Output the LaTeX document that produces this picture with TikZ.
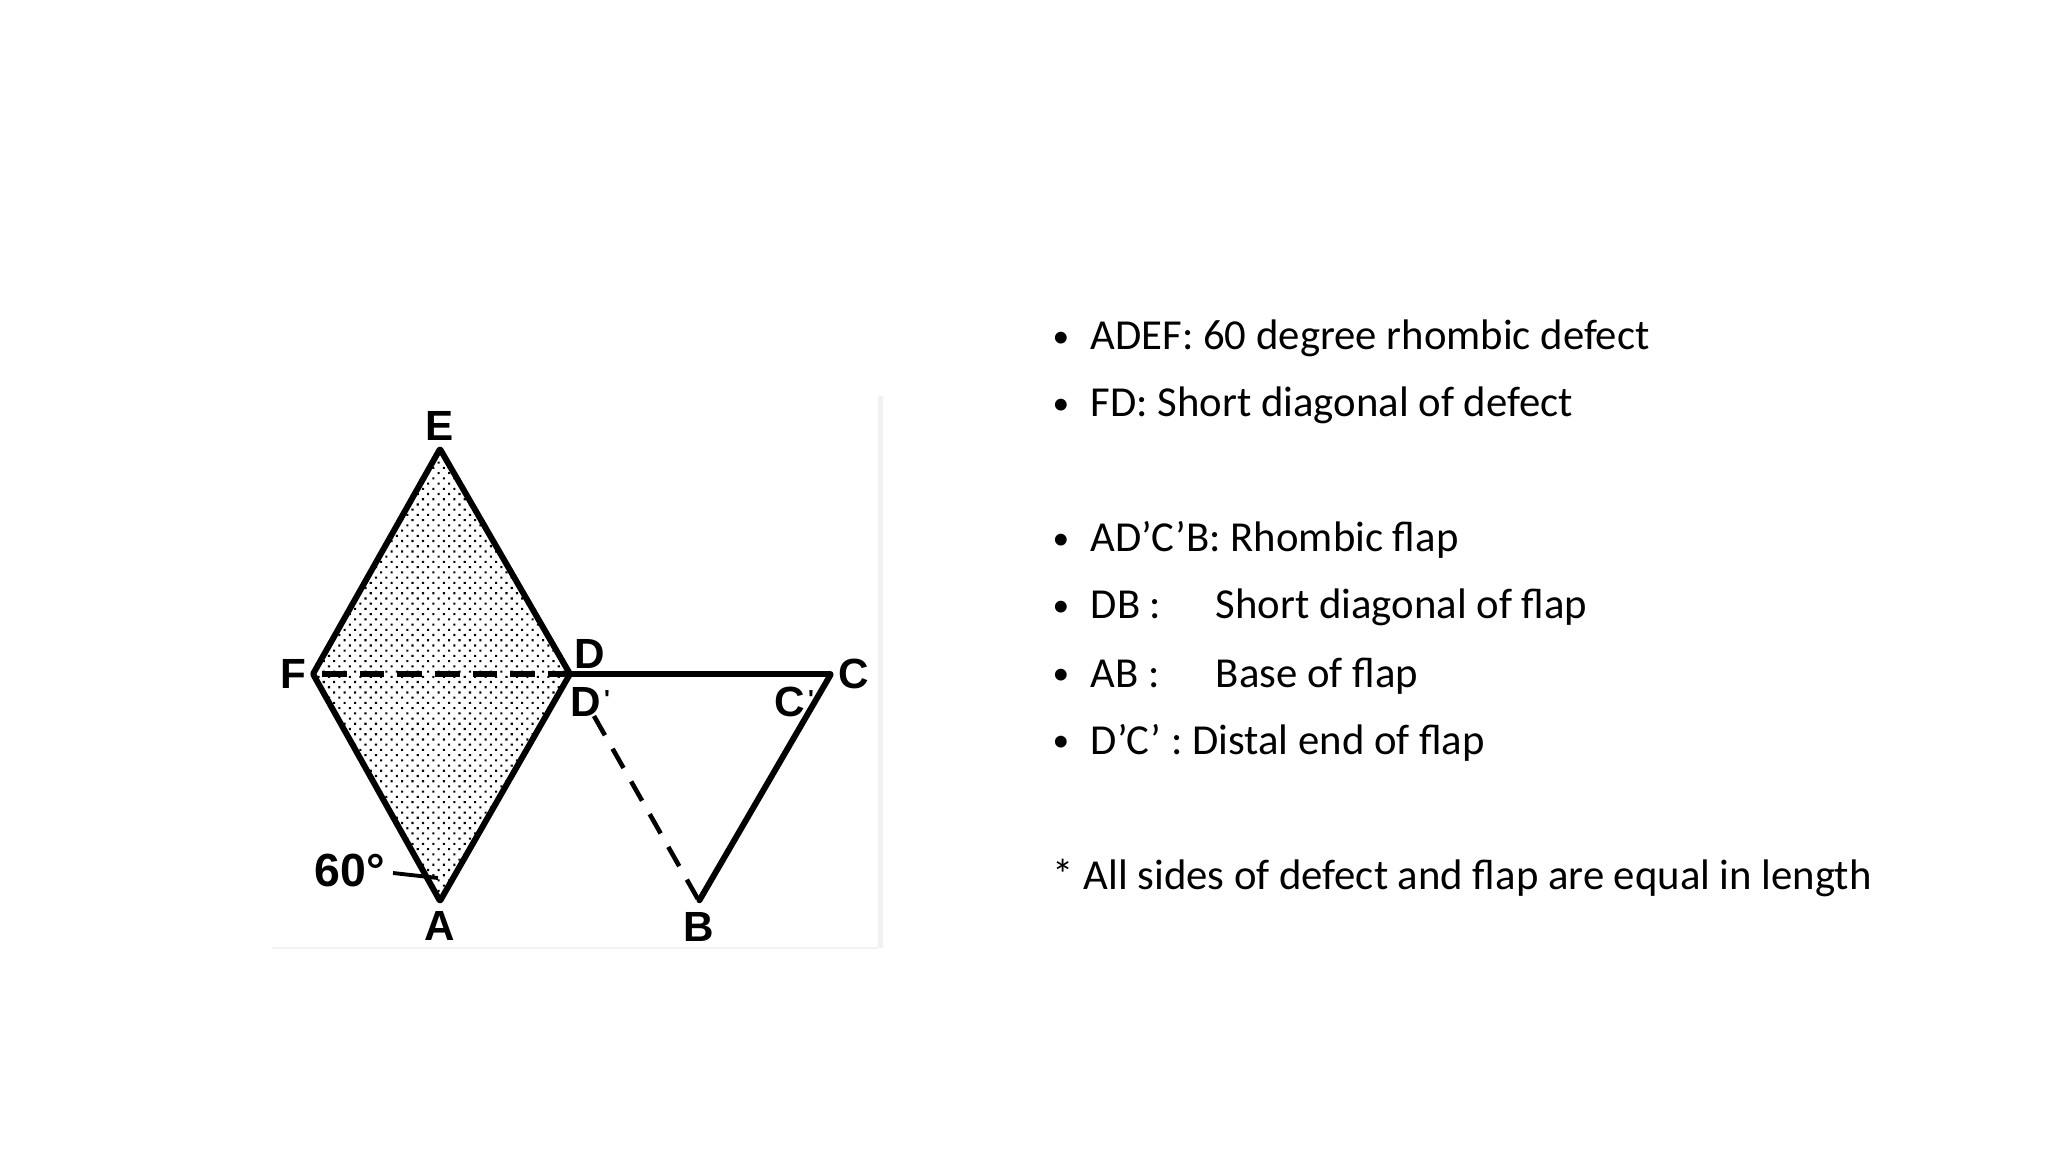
\documentclass[tikz,border=0pt]{standalone}
\usepackage{fontspec}
\setmainfont{Carlito}
\newfontfamily\labelfont{Liberation Sans}
\usetikzlibrary{patterns.meta}
\begin{document}
\begin{tikzpicture}[x=0.01cm,y=-0.01cm]
\tikzset{corner/.style={inner sep=0pt, minimum size=0pt},
  vlabel/.style={font=\labelfont\bfseries\fontsize{12}{12}\selectfont, inner sep=0pt},
  item/.style={anchor=base west, inner sep=0pt, font=\fontsize{12.15}{14}\selectfont},
  side/.style={line width=1.7pt, line cap=round},
  cut/.style={line width=1.3pt, dash pattern=on 6.3pt off 4.4pt}}
\newcommand{\bul}{\makebox[0.38cm][l]{\raisebox{0.6pt}{\fontsize{9.5}{9.5}\selectfont\textbullet}}}
\newcommand{\tick}{\rlap{\raisebox{2.5pt}{\kern0.8pt\fontsize{7}{7}\selectfont\textquotesingle}}}
    \useasboundingbox (0,0) rectangle (2048,1152);
    \fill[white] (0,0) rectangle (2048,1152);
    \fill[gray!10] (878,396) rectangle (883,948);
    \draw[gray!10, line width=0.5pt] (272,948) -- (878,948);

    \node[corner] at (440,901) (A) [label={[vlabel, label distance=2.6pt]below:A}] {};
    \node[corner] at (699,901) (B) [label={[vlabel, label distance=3pt]below:B}] {};
    \node[corner] at (831,674) (C) [label={[vlabel, label distance=1.6pt]right:C}] {};
    \node[corner] at (570,674) (D) [label={[vlabel, label distance=1.6pt]50:D}] {};
    \node[corner] at (440,449) (E) [label={[vlabel, label distance=2pt]above:E}] {};
    \node[corner] at (313,674) (F) [label={[vlabel, label distance=1.6pt]left:F}] {};
    \node[vlabel] at (586,702) (Dp) {D\tick};
    \node[vlabel] at (790,702) (Cp) {C\tick};
    \coordinate (Dcut) at (594,716);
    \coordinate (Fcut) at (322,674);
    \coordinate (angle) at (438,878);
    \node[vlabel, font=\labelfont\bfseries\fontsize{13.2}{14}\selectfont] at (350,871) (sixty) {60°};

    \path[pattern={Dots[distance=2.1pt, radius=0.42pt, angle=45]}] (A.center) -- (D.center) -- (E.center) -- (F.center) -- cycle;

    \path[side] (A) edge (D);
    \path[side] (D) edge (E);
    \path[side] (E) edge (F);
    \path[side] (F) edge (A);
    \path[side] (D) edge (C);
    \path[side] (C) edge (B);
    \path[cut, line width=1.7pt, dash pattern=on 7pt off 3.7pt] (Fcut) edge (D);
    \path[cut] (Dcut) edge (B);
    \path[line width=1.1pt] (393,873) edge (angle);

    \node[item] at (1052,350) (l1) {\bul ADEF: 60 degree rhombic defect};
    \node[item] at (1052,417) (l2) {\bul FD: Short diagonal of defect};
    \node[item] at (1052,552) (l3) {\bul AD’C’B: Rhombic flap};
    \node[item] at (1052,619) (l4) {\bul \makebox[1.25cm][l]{DB :}Short diagonal of flap};
    \node[item] at (1052,687) (l5) {\bul \makebox[1.25cm][l]{AB :}Base of flap};
    \node[item] at (1052,754) (l6) {\bul D’C’ : Distal end of flap};
    \node[item] at (1052,889) (l7) {* All sides of defect and flap are equal in length};

  \end{tikzpicture}
\end{document}
